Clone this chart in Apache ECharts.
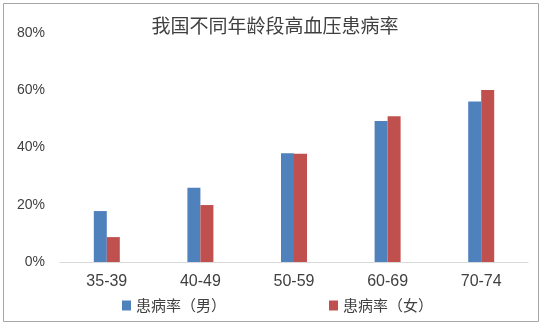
<!DOCTYPE html>
<html><head><meta charset="utf-8">
<script src="https://cdn.jsdelivr.net/npm/echarts@6/dist/echarts.min.js"></script>
<style>html,body{margin:0;padding:0;background:#fff}#c{width:543px;height:326px}</style>
</head><body><div id="c"></div>
<script>
const title = '我国不同年龄段高血压患病率';
const categories = ['35-39', '40-49', '50-59', '60-69', '70-74'];
const seriesNames = ['患病率（男）', '患病率（女）'];
const male = [17.8, 25.9, 38.0, 49.3, 56.1];
const female = [8.7, 19.9, 37.8, 50.9, 60.1];
const colors = ['#4F81BD', '#C0504D'];

const chart = echarts.init(document.getElementById('c'));
const font = '"Noto Sans CJK SC", "Noto Sans", sans-serif';
chart.setOption({
  animation: false,
  graphic: [{type: 'rect', shape: {x: 3.5, y: 3.5, width: 535, height: 318}, style: {fill: 'none', stroke: '#a6a6a6', lineWidth: 1}}],
  title: {text: title, left: 270, textAlign: 'center', top: 11, textStyle: {fontFamily: font, fontSize: 19, fontWeight: 'normal', color: '#404040'}},
  legend: {data: seriesNames, left: 117, top: 293, itemWidth: 9, itemHeight: 10, itemGap: 103, icon: 'rect',
    textStyle: {fontFamily: font, fontSize: 15, color: '#404040'}},
  grid: {left: 60, right: 15, top: 33, bottom: 64},
  xAxis: {type: 'category', data: categories,
    axisLine: {lineStyle: {color: '#d9d9d9', width: 1}}, axisTick: {show: false},
    axisLabel: {fontFamily: 'Liberation Sans, sans-serif', fontSize: 16, color: '#404040', margin: 12}},
  yAxis: {type: 'value', min: 0, max: 80, interval: 20,
    axisLabel: {formatter: '{value}%', fontFamily: 'Liberation Sans, sans-serif', fontSize: 14, color: '#404040', margin: 15},
    splitLine: {show: false}, axisLine: {show: false}, axisTick: {show: false}},
  series: [
    {name: seriesNames[0], type: 'bar', data: male, barWidth: 13, barGap: '0%', itemStyle: {color: colors[0]}},
    {name: seriesNames[1], type: 'bar', data: female, barWidth: 13, barGap: '0%', itemStyle: {color: colors[1]}}
  ]
});
</script></body></html>
